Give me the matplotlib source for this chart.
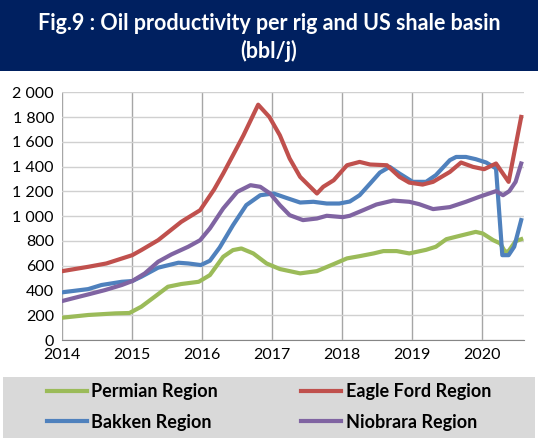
import numpy as np
import matplotlib
matplotlib.use("Agg")
import matplotlib.pyplot as plt
import matplotlib.patches as mpatches
from matplotlib.ticker import FuncFormatter

# values (x in decimal years, y in bbl/j)
perm_x = [2014.0, 2014.37, 2014.76, 2014.96, 2015.13, 2015.32, 2015.51, 2015.7, 2015.95,
          2016.11, 2016.3, 2016.44, 2016.56, 2016.73, 2016.92, 2017.11, 2017.4, 2017.64,
          2017.88, 2018.07, 2018.25, 2018.45, 2018.59, 2018.78, 2018.96, 2019.2, 2019.34,
          2019.49, 2019.68, 2019.91, 2020.01, 2020.16, 2020.26, 2020.33, 2020.38, 2020.48, 2020.56]
perm_y = [180, 202, 215, 218, 269, 349, 430, 452, 470,
          524, 672, 726, 739, 699, 618, 573, 538, 556,
          613, 659, 677, 699, 718, 718, 699, 728, 753,
          814, 841, 873, 860, 806, 780, 712, 718, 798, 814]

eagle_x = [2014.0, 2014.37, 2014.63, 2015.0, 2015.13, 2015.37, 2015.7, 2015.97, 2016.17,
           2016.3, 2016.44, 2016.59, 2016.8, 2016.96, 2017.11, 2017.25, 2017.4, 2017.52,
           2017.64, 2017.73, 2017.88, 2018.07, 2018.25, 2018.4, 2018.64, 2018.82, 2018.96,
           2019.15, 2019.3, 2019.54, 2019.7, 2019.87, 2020.03, 2020.2, 2020.38, 2020.56]
eagle_y = [556, 591, 618, 685, 726, 806, 954, 1048, 1215,
           1344, 1492, 1653, 1900, 1801, 1653, 1465, 1317, 1250,
           1183, 1237, 1290, 1411, 1438, 1417, 1411, 1317, 1271,
           1255, 1277, 1357, 1433, 1398, 1379, 1425, 1277, 1801]

bakken_x = [2014.0, 2014.37, 2014.56, 2014.85, 2015.0, 2015.13, 2015.37, 2015.66, 2015.8,
            2015.98, 2016.11, 2016.25, 2016.44, 2016.63, 2016.83, 2017.02, 2017.2, 2017.4,
            2017.59, 2017.78, 2017.96, 2018.11, 2018.25, 2018.4, 2018.54, 2018.68, 2018.82,
            2019.01, 2019.2, 2019.34, 2019.54, 2019.63, 2019.77, 2019.91, 2020.06, 2020.2,
            2020.29, 2020.38, 2020.46, 2020.56]
bakken_y = [385, 411, 444, 470, 476, 511, 584, 624, 618,
            605, 640, 747, 927, 1089, 1169, 1183, 1148, 1110,
            1116, 1102, 1102, 1118, 1169, 1263, 1352, 1398, 1344,
            1277, 1277, 1331, 1452, 1478, 1478, 1460, 1433, 1385,
            685, 685, 753, 968]

niob_x = [2014.0, 2014.18, 2014.37, 2014.61, 2014.85, 2015.0, 2015.18, 2015.37, 2015.56,
          2015.8, 2015.97, 2016.11, 2016.3, 2016.5, 2016.69, 2016.83, 2016.97, 2017.11,
          2017.25, 2017.44, 2017.64, 2017.78, 2018.01, 2018.11, 2018.3, 2018.49, 2018.73,
          2018.96, 2019.1, 2019.3, 2019.54, 2019.77, 2019.96, 2020.2, 2020.3, 2020.39,
          2020.48, 2020.56]
niob_y = [315, 341, 368, 403, 444, 476, 538, 632, 691,
          753, 806, 901, 1062, 1196, 1250, 1237, 1183, 1089,
          1008, 968, 981, 1003, 992, 1003, 1048, 1094, 1126,
          1116, 1097, 1057, 1073, 1116, 1156, 1202, 1169, 1202,
          1277, 1425]

years = [2014, 2015, 2016, 2017, 2018, 2019, 2020]

W, H = 538, 438
fig = plt.figure(figsize=(W / 100, H / 100), dpi=100)
fig.patch.set_facecolor("white")

# title band
fig.patches.append(mpatches.Rectangle((0, 1 - 71 / H), 1, 71 / H, transform=fig.transFigure,
                                      facecolor="#002060", edgecolor="none", zorder=0))
fig.text(0.5, 1 - 23 / H, "Fig.9 : Oil productivity per rig and US shale basin",
         ha="center", va="center", color="white", fontsize=15.5, fontweight="bold", family="Lato")
fig.text(0.5, 1 - 51 / H, "(bbl/j)", ha="center", va="center", color="white",
         fontsize=15.5, fontweight="bold", family="Lato")

# legend band
fig.patches.append(mpatches.Rectangle((3 / W, 0), 532 / W, 61 / H, transform=fig.transFigure,
                                      facecolor="#d9d9d9", edgecolor="none", zorder=0))

ax = fig.add_axes([62.3 / W, (H - 340) / H, (524 - 62.3) / W, (340 - 92.3) / H])
ax.plot(perm_x, perm_y, color="#9BBB59", lw=3, label="Permian Region", solid_joinstyle="round")
ax.plot(bakken_x, bakken_y, color="#4F81BD", lw=3, label="Bakken Region", solid_joinstyle="round")
ax.plot(eagle_x, eagle_y, color="#C0504D", lw=3, label="Eagle Ford Region", solid_joinstyle="round")
ax.plot(niob_x, niob_y, color="#8064A2", lw=3, label="Niobrara Region", solid_joinstyle="round")

ax.set_xlim(2014, 2020.6)
ax.set_ylim(0, 2000)
ax.set_xticks(years)
ax.set_yticks(np.arange(0, 2001, 200))
ax.yaxis.set_major_formatter(FuncFormatter(lambda v, p: "{:,.0f}".format(v).replace(",", " ")))
ax.grid(axis="y", color="#d0d0d0", lw=1)
ax.grid(axis="x", color="#a6a6a6", lw=1)
ax.set_axisbelow(True)
for s in ["top", "right", "left"]:
    ax.spines[s].set_visible(False)
ax.spines["bottom"].set_color("#868686")
ax.tick_params(length=0, labelsize=11.5, pad=6)
for lab in ax.get_xticklabels() + ax.get_yticklabels():
    lab.set_family("Lato")

h, l = ax.get_legend_handles_labels()
leg = fig.legend(h, l, ncol=2, loc="center left", bbox_to_anchor=(31 / W, 31 / H), frameon=False,
                 prop={"family": "Lato", "weight": "bold", "size": 13},
                 handlelength=2.2, handletextpad=0.25, columnspacing=4.6, labelspacing=0.75)

fig.savefig("out.png", dpi=100)
